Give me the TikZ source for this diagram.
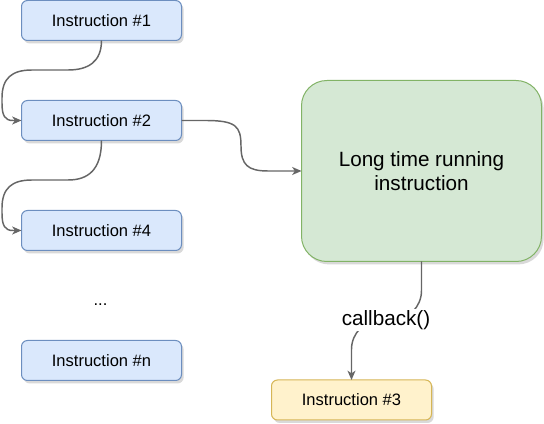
\documentclass[tikz,border=0pt]{standalone}
\usepackage{fontspec}
\setmainfont{Liberation Sans}
\usetikzlibrary{arrows.meta,shadows}
\definecolor{bluefill}{HTML}{DAE8FC}
\definecolor{bluedraw}{HTML}{6C8EBF}
\definecolor{greenfill}{HTML}{D5E8D4}
\definecolor{greendraw}{HTML}{82B366}
\definecolor{yellowfill}{HTML}{FFF2CC}
\definecolor{yellowdraw}{HTML}{D6B656}
\definecolor{edgegray}{HTML}{666666}
\tikzset{
  boxshadow/.style={drop shadow={shadow xshift=1.6pt,shadow yshift=-2.2pt,opacity=0.25,fill=black!60}},
  instr/.style={rectangle, rounded corners=4.5pt, minimum width=120pt, minimum height=30pt,
    inner sep=0pt, outer sep=0pt, line width=0.75pt, boxshadow,
    font=\fontsize{12.4}{15}\selectfont},
  bluebox/.style={instr, fill=bluefill, draw=bluedraw},
  yellowbox/.style={instr, fill=yellowfill, draw=yellowdraw},
  bigbox/.style={rectangle, rounded corners=19pt, minimum width=180pt, minimum height=135.75pt,
    inner sep=0pt, outer sep=0pt, line width=0.75pt, fill=greenfill, draw=greendraw, boxshadow,
    align=center, font=\fontsize{15.5}{18}\selectfont},
  conn/.style={draw=edgegray, line width=1.1pt,
    -{Stealth[length=7pt,width=6pt,inset=2pt]}},
}
\begin{document}
\begin{tikzpicture}[x=0.75pt,y=-0.75pt]
\useasboundingbox (0,0) rectangle (544,424);
\node[bluebox] (i1) at (101.5,20.5) {Instruction \#1};
\node[bluebox] (i2) at (101.5,120.5) {Instruction \#2};
\node[bluebox] (i4) at (101.5,230.5) {Instruction \#4};
\node[font=\fontsize{12.4}{15}\selectfont] (dots) at (100.5,305) {...};
\node[bluebox] (in) at (101.5,360.5) {Instruction \#n};
\node[bigbox] (long) at (421.5,171) {Long time running\\instruction};
\node[yellowbox] (i3) at (351.5,400) {Instruction \#3};

\draw[conn] (i1.south) .. controls (101.5,62) and (88,70) .. (68,70) -- (32,70)
  .. controls (12,70) and (2,78) .. (2,98) -- (2,103) .. controls (2,116) and (5,120.5) .. (13,120.5) -- (i2.west);

\draw[conn] (i2.east) -- (205,120.5) .. controls (236,120.5) and (241,126) .. (241,146)
  .. controls (241,165) and (248,171) .. (268,171) -- (long.west);

\draw[conn] (i2.south) .. controls (101.5,170) and (88,180) .. (68,180) -- (32,180)
  .. controls (12,180) and (2,188) .. (2,208) -- (2,213) .. controls (2,226) and (5,230.5) .. (13,230.5) -- (i4.west);

\coordinate (c4a) at (421.5,320);
\coordinate (c4b) at (351.5,320);
\draw[conn, rounded corners=22pt] (long.south -| c4a) -- (c4a) -- (c4b) -- (i3.north);
\node[fill=white, inner sep=1pt, font=\fontsize{15.5}{18}\selectfont] (cb) at (386,320) {callback()};
\end{tikzpicture}
\end{document}
